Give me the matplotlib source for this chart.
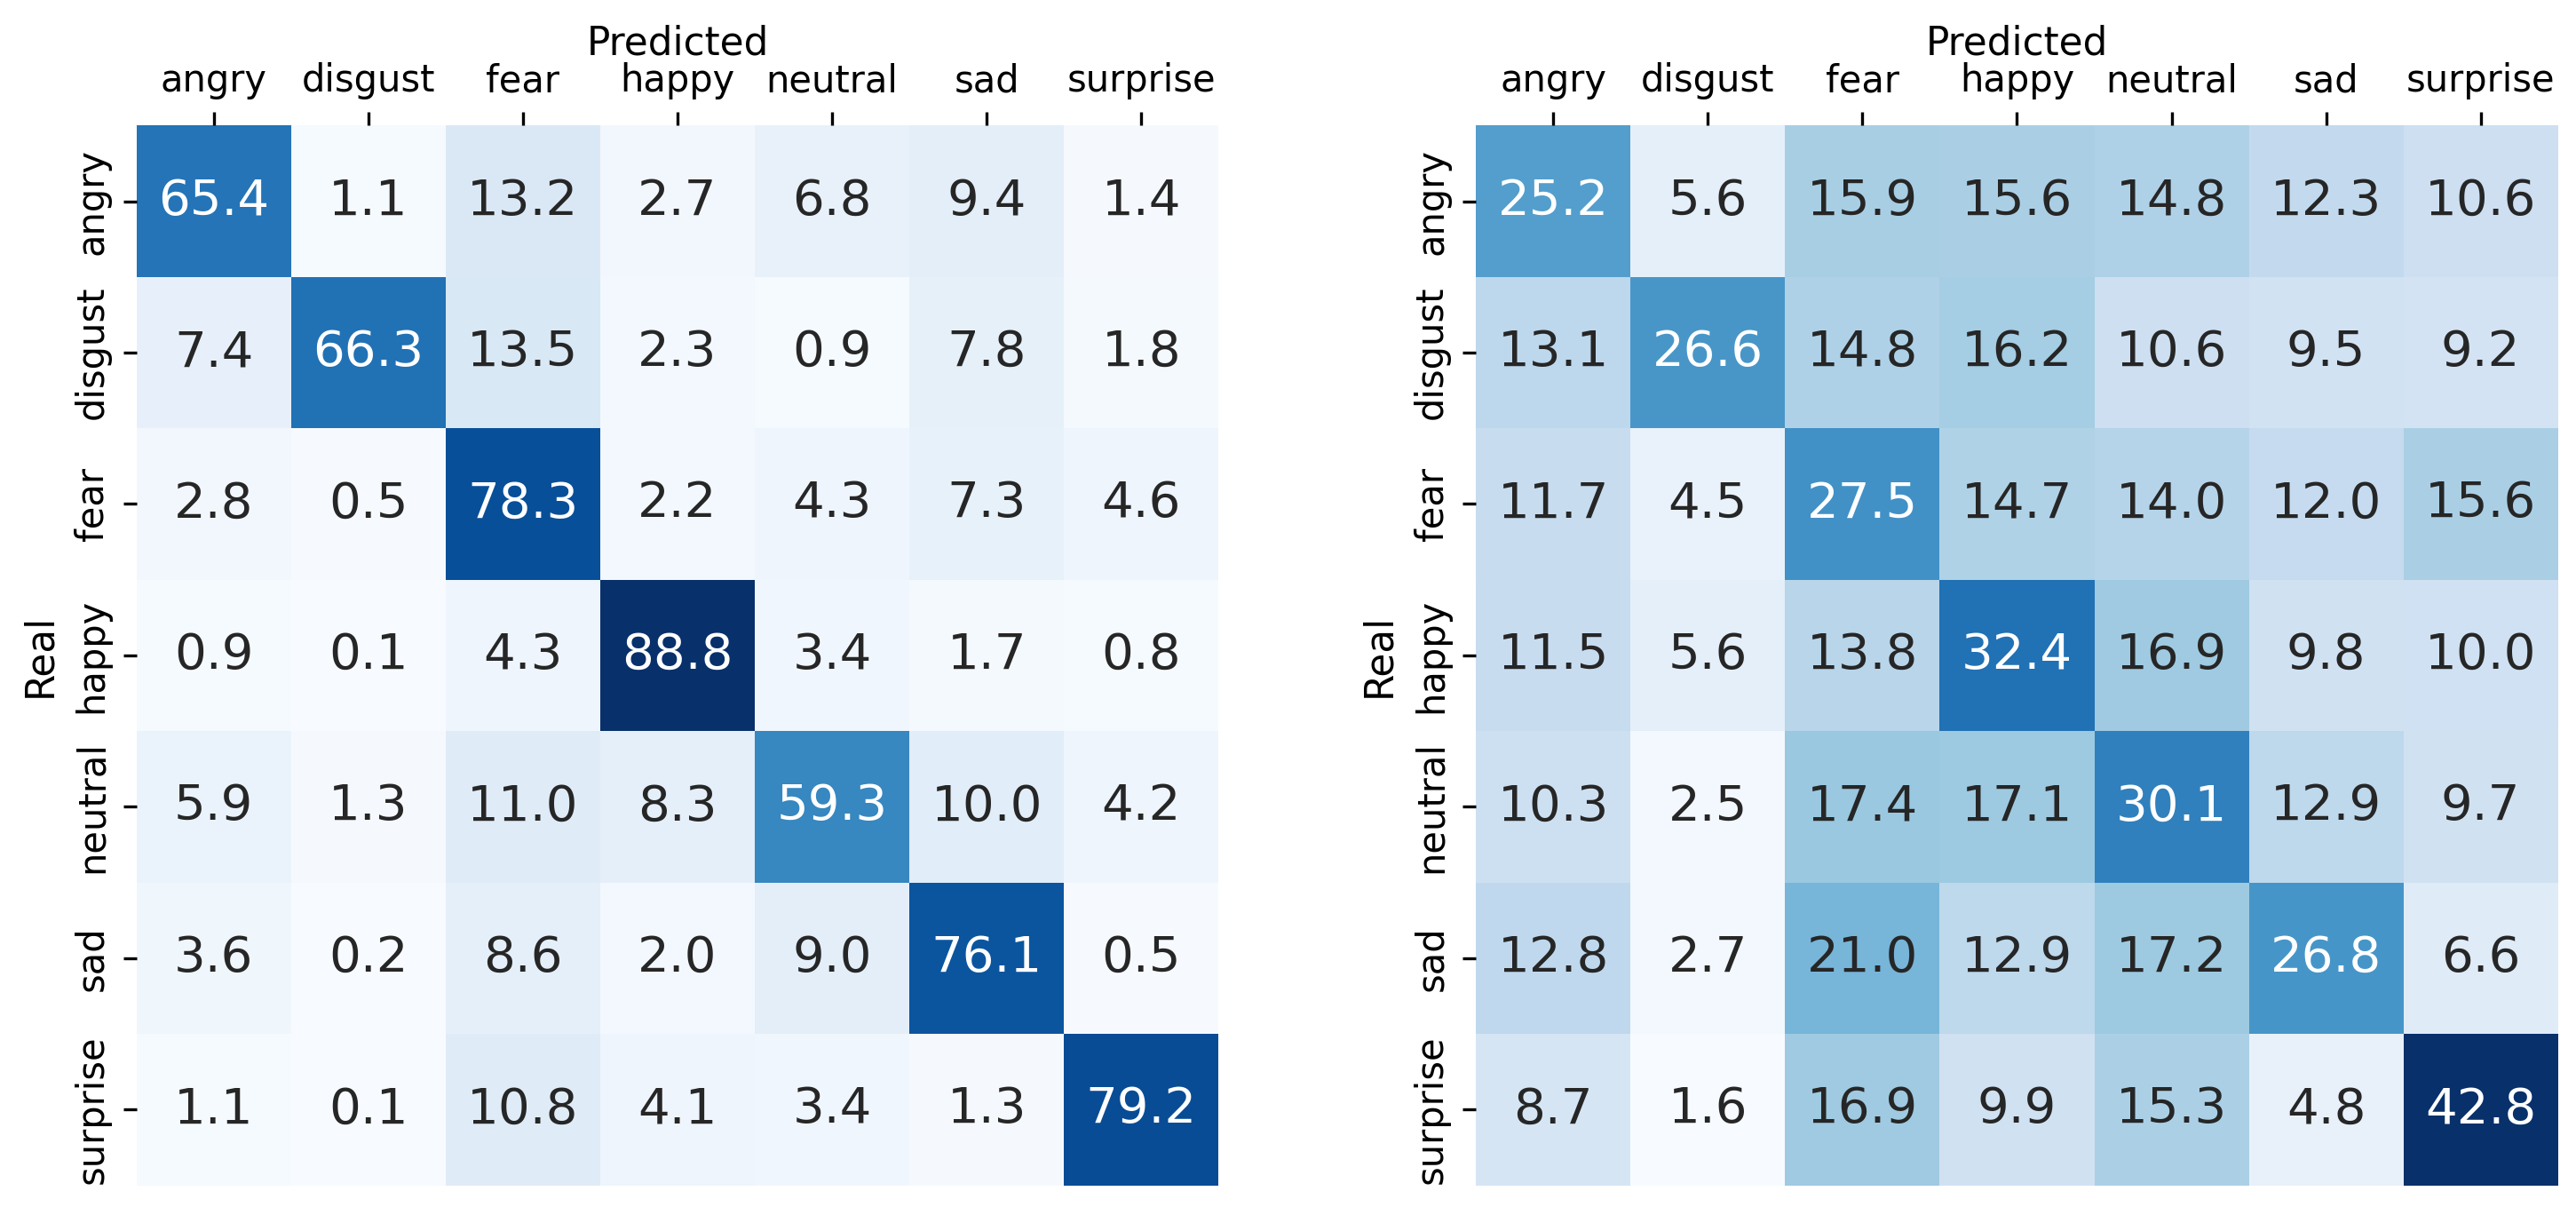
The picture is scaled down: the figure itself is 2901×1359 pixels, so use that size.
import numpy as np
import matplotlib
matplotlib.use("Agg")
import matplotlib.pyplot as plt
import seaborn as sns

labels = ["angry", "disgust", "fear", "happy", "neutral", "sad", "surprise"]

# confusion matrices in percent (rows: real, cols: predicted)
cm_left = np.array([
    [65.4, 1.1, 13.2, 2.7, 6.8, 9.4, 1.4],
    [7.4, 66.3, 13.5, 2.3, 0.9, 7.8, 1.8],
    [2.8, 0.5, 78.3, 2.2, 4.3, 7.3, 4.6],
    [0.9, 0.1, 4.3, 88.8, 3.4, 1.7, 0.8],
    [5.9, 1.3, 11.0, 8.3, 59.3, 10.0, 4.2],
    [3.6, 0.2, 8.6, 2.0, 9.0, 76.1, 0.5],
    [1.1, 0.1, 10.8, 4.1, 3.4, 1.3, 79.2],
])

cm_right = np.array([
    [25.2, 5.6, 15.9, 15.6, 14.8, 12.3, 10.6],
    [13.1, 26.6, 14.8, 16.2, 10.6, 9.5, 9.2],
    [11.7, 4.5, 27.5, 14.7, 14.0, 12.0, 15.6],
    [11.5, 5.6, 13.8, 32.4, 16.9, 9.8, 10.0],
    [10.3, 2.5, 17.4, 17.1, 30.1, 12.9, 9.7],
    [12.8, 2.7, 21.0, 12.9, 17.2, 26.8, 6.6],
    [8.7, 1.6, 16.9, 9.9, 15.3, 4.8, 42.8],
])

fig = plt.figure(figsize=(9.67, 4.53), dpi=300)
ax1 = fig.add_axes([0.053, 0.018, 0.42, 0.878])
ax2 = fig.add_axes([0.573, 0.018, 0.42, 0.878])

for ax, cm in [(ax1, cm_left), (ax2, cm_right)]:
    sns.heatmap(cm, ax=ax, annot=True, fmt=".1f", cmap="Blues", cbar=False,
                xticklabels=labels, yticklabels=labels,
                annot_kws={"size": 13.5})
    ax.xaxis.tick_top()
    ax.xaxis.set_label_position("top")
    ax.set_xlabel("Predicted", fontsize=10.5, labelpad=2)
    ax.set_ylabel("Real", fontsize=10.5)
    ax.tick_params(axis="both", labelsize=10)
    plt.setp(ax.get_xticklabels(), rotation=0)
    plt.setp(ax.get_yticklabels(), rotation=90, va="center")

fig.savefig("out.png", dpi=300)
